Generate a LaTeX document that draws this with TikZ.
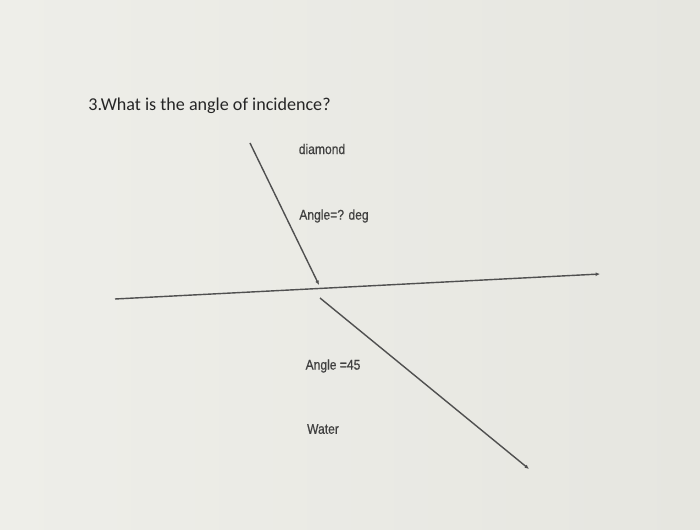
\documentclass[tikz,border=0pt]{standalone}
\usepackage{fontspec}
\setmainfont{Carlito}
\newfontfamily\labelfont[FakeStretch=0.86,FakeBold=0.6]{Liberation Sans}
\usetikzlibrary{arrows.meta}
\definecolor{paper}{RGB}{230,230,224}
\definecolor{paperlight}{RGB}{238,238,233}
\definecolor{ink}{RGB}{80,80,80}
\tikzset{
	ray/.style={line width=0.8pt, color=ink, -{Latex[length=2.5pt,width=2.2pt]}},
	lbl/.style={font=\labelfont\fontsize{8}{9}\selectfont, text=black!75, inner sep=0pt}
}

\begin{document}
\begin{tikzpicture}[x=0.02cm, y=-0.02cm]
		%%%%% START %%%%%
		
		\shade[left color=paperlight, right color=paper] (0, 0) rectangle (700, 530);
		\useasboundingbox (0, 0) rectangle (700, 530);
		
		\node[anchor=west, inner sep=0pt, font=\fontsize{10.3}{12}\selectfont, text=black!85] (question) at (88, 106) {3.What is the angle of incidence?};
		
		\coordinate (inStart) at (250, 143);
		\coordinate (inEnd) at (319, 285);
		\coordinate (surfLeft) at (115, 299);
		\coordinate (surfRight) at (600, 274);
		\coordinate (outStart) at (320, 298);
		\coordinate (outEnd) at (529, 469);
		
		\draw[ray] (inStart) -- (inEnd);
		\draw[ray] (surfLeft) -- (surfRight);
		\draw[ray] (outStart) -- (outEnd);
		
		\node[lbl] (diamond) at (322, 149) {diamond};
		\node[lbl] (angleIn) at (334, 216) {Angle=? deg};
		\node[lbl] (angleOut) at (333, 366) {Angle =45};
		\node[lbl] (water) at (323, 429) {Water};
		
		%%%%% END %%%%%
\end{tikzpicture}
\end{document}
